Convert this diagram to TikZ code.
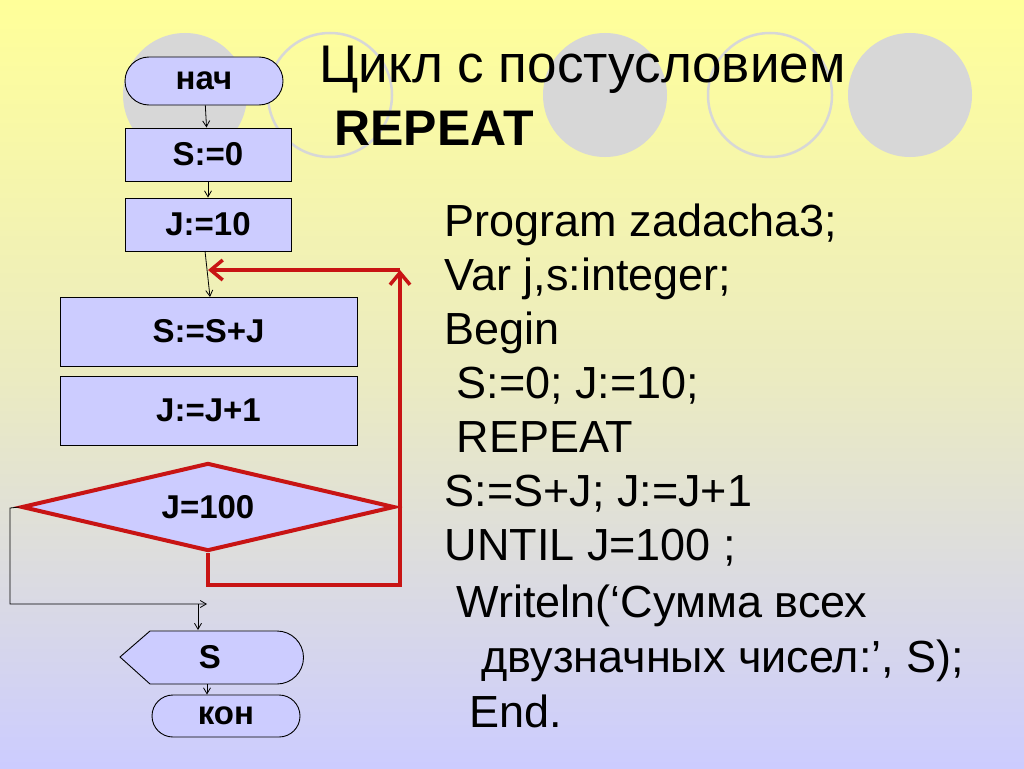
\documentclass[tikz,border=0pt]{standalone}
\usepackage{fontspec}
\setmainfont{Liberation Sans}
\usetikzlibrary{arrows.meta,shapes.geometric,shapes.misc}
\definecolor{lav}{RGB}{204,204,255}
\definecolor{yel}{RGB}{255,255,153}
\definecolor{dred}{RGB}{200,20,20}
\definecolor{cg}{RGB}{215,215,215}
\begin{document}
\begin{tikzpicture}[x=1pt,y=-1pt,
  blk/.style={draw=black,line width=0.9pt,fill=lav,font=\bfseries\fontsize{33}{36}\selectfont,inner sep=0},
  arr/.style={-{Straight Barb[length=6pt,width=7pt]},line width=0.8pt},
  rarr/.style={draw=dred,line width=4pt,-{Straight Barb[length=12pt,width=20pt,line width=3.5pt]}},
  code/.style={anchor=base west,font=\fontsize{45}{48}\selectfont}]
\shade[top color=yel,bottom color=lav,middle color=yel!60!lav] (0,0) rectangle (1024,768);
\useasboundingbox (0,0) rectangle (1024,768);
% circles
\fill[cg] (185,95) circle (62);
\draw[cg,line width=2.5pt] (330,95) circle (62);
\fill[cg] (605,95) circle (62);
\draw[cg,line width=2.5pt] (770,95) circle (62);
\fill[cg] (910,95) circle (62);
% nodes
\node[blk,rounded rectangle,minimum width=158pt,minimum height=48pt] (n) at (204,81) {нач};
\node[blk,minimum width=166pt,minimum height=53pt] (s0) at (208,154.5) {S:=0};
\node[blk,minimum width=166pt,minimum height=53pt] (j10) at (208,224.5) {J:=10};
\node[blk,minimum width=297pt,minimum height=69pt] (ss) at (208.5,331.5) {S:=S+J};
\node[blk,minimum width=297pt,minimum height=69pt] (jj) at (208.5,410.5) {J:=J+1};
\node[blk,diamond,draw=dred,line width=4pt,minimum width=373pt,minimum height=88pt,aspect=4.2] (d) at (208,507) {J=100};
\draw[blk] (120,657) -- (150,631) -- (277,631) arc (-90:90:26.5) -- (150,684) -- cycle;
\node[font=\bfseries\fontsize{33}{36}\selectfont] (out) at (210,657) {S};
\node[blk,rounded rectangle,minimum width=148pt,minimum height=42pt] (k) at (226,716) {кон};
% connectors
\draw[arr] (n) -- (s0);
\draw[arr] (s0) -- (j10);
\draw[arr] (205,251) -- (210,297);
\coordinate (c1) at (208,585);
\coordinate (c2) at (400,585);
\coordinate (c3) at (400,270);
\coordinate (c4) at (208,270);
\draw[rarr] (d.south) -- (c1) -- (c2) -- (c3);
\draw[rarr] (c3) -- (c4);
\coordinate (l1) at (10,508);
\coordinate (l2) at (10,604);
\coordinate (l3) at (207,604);
\draw[arr] (d.west) -- (l1) -- (l2) -- (l3);
\draw[arr] (198,604) -- (198,630);
\draw[arr] (207,684) -- (k.north -| 207,0);
% texts
\node[anchor=base west,font=\fontsize{53}{56}\selectfont] (t1) at (316,82) {Цикл с постусловием};
\node[anchor=base west,font=\bfseries\fontsize{50}{54}\selectfont] (t2) at (331,145) {REPEAT};
\node[code] at (441,236) {Program zadacha3;};
\node[code] at (441,290) {Var j,s:integer;};
\node[code] at (441,344) {Begin};
\node[code] at (453,398) {S:=0; J:=10;};
\node[code] at (453,452) {REPEAT};
\node[code] at (441,506) {S:=S+J; J:=J+1};
\node[code] at (441,560) {UNTIL J=100 ;};
\node[code] at (453,617) {Writeln(‘Сумма всех};
\node[code] at (478,672) {двузначных чисел:’, S);};
\node[code] at (466,727) {End.};
\end{tikzpicture}
\end{document}
